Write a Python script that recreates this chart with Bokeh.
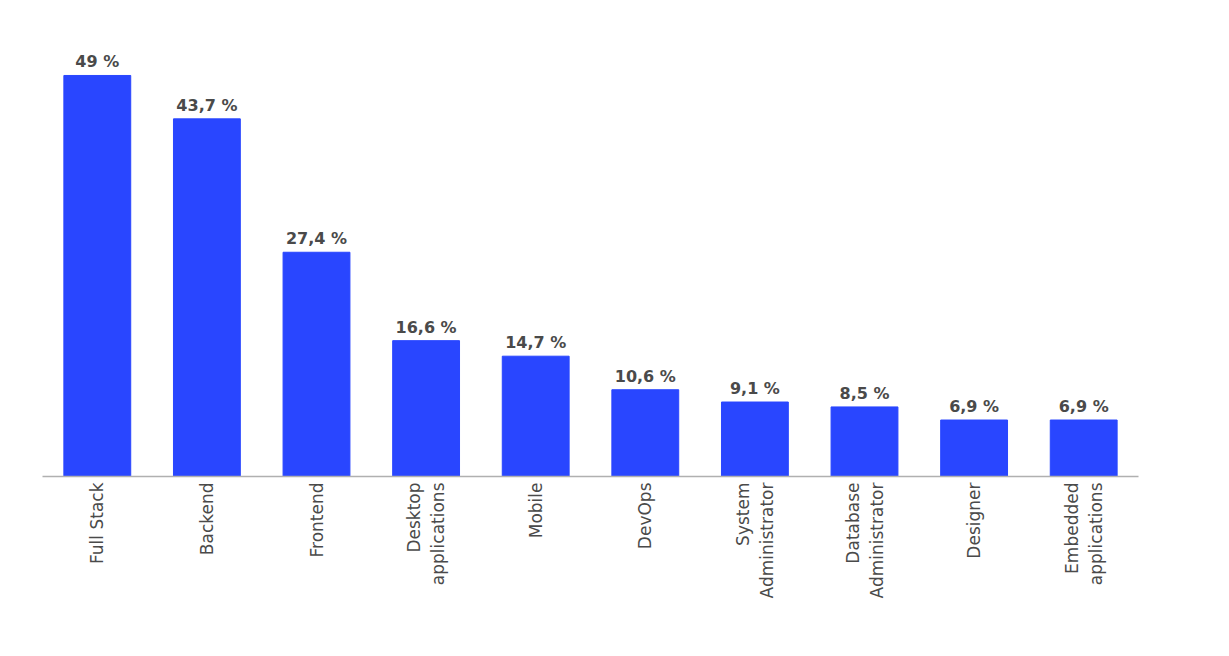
import math
from bokeh.plotting import figure
from bokeh.models import ColumnDataSource, LabelSet, Range1d
from bokeh.core.properties import value
from bokeh.embed import file_html
from bokeh.resources import INLINE

categories = ["Full Stack", "Backend", "Frontend", "Desktop\napplications", "Mobile",
              "DevOps", "System\nAdministrator", "Database\nAdministrator", "Designer",
              "Embedded\napplications"]
values = [49, 43.7, 27.4, 16.6, 14.7, 10.6, 9.1, 8.5, 6.9, 6.9]

labels = [(f"{v:g}".replace(".", ",")) + " %" for v in values]

src = ColumnDataSource(dict(cat=categories, val=values, lab=labels))

FONT = "DejaVu Sans"

p = figure(x_range=categories, width=1213, height=640, output_backend="svg",
           toolbar_location=None, min_border_left=42, min_border_right=75,
           min_border_top=28, min_border_bottom=164)
p.y_range = Range1d(0, 54.74)
p.x_range.range_padding = 0

p.vbar(x="cat", top="val", width=0.61, source=src, fill_color="#2946FF",
       line_color="#2946FF")

ls = LabelSet(x="cat", y="val", text="lab", source=src, text_align="center",
              text_baseline="bottom", y_offset=4, text_font=value(FONT),
              text_font_style="bold", text_font_size="16px", text_color="#4a4a4a")
p.add_layout(ls)

p.outline_line_color = None
p.grid.visible = False
p.yaxis.visible = False
ax = p.xaxis[0]
ax.axis_line_color = "#b0b0b0"
ax.axis_line_width = 1.5
ax.major_tick_line_color = None
ax.minor_tick_line_color = None
ax.major_label_orientation = math.pi / 2
ax.major_label_text_font = FONT
ax.major_label_text_font_size = "17px"
ax.major_label_text_color = "#4a4a4a"
ax.major_label_standoff = 0

open("out.html", "w").write(file_html(p, INLINE))
